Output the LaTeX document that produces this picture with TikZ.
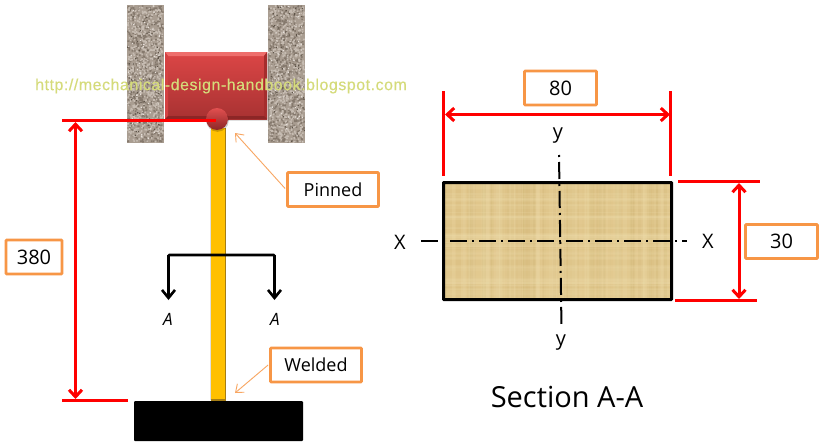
\documentclass[tikz,border=0pt]{standalone}
\usepackage{fontspec}
\setmainfont{Open Sans}
\newfontfamily\wmfont[FakeBold=0.25]{Liberation Sans}
\usetikzlibrary{arrows.meta,calc}
\definecolor{dimred}{HTML}{FF0000}
\definecolor{boxorange}{HTML}{F79646}
\definecolor{shaftyellow}{HTML}{FFC000}
\definecolor{shaftedge}{RGB}{165,125,20}
\definecolor{stonebase}{HTML}{A99D91}
\definecolor{stonedark}{HTML}{85796D}
\definecolor{stonelight}{HTML}{C6BCB2}
\definecolor{stonehi}{HTML}{E6E0DA}
\definecolor{stonelow}{HTML}{5E5449}
\definecolor{wood}{HTML}{E0C68B}
\definecolor{woodlight}{RGB}{242,226,178}
\definecolor{wooddark}{RGB}{190,160,90}
\definecolor{wmark}{HTML}{D5DB7A}
\definecolor{redtop}{RGB}{220,70,70}
\definecolor{redbot}{RGB}{168,50,50}
\definecolor{bevtop}{RGB}{238,110,108}
\definecolor{bevleft}{RGB}{212,66,66}
\definecolor{bevright}{RGB}{165,45,45}
\definecolor{bevbot}{RGB}{140,38,38}
\definecolor{balltop}{RGB}{226,80,80}
\definecolor{ballbot}{RGB}{140,38,38}
\tikzset{
  dimline/.style={draw=dimred,line width=3pt},
  dimarrow/.style={dimline,{Straight Barb[length=7pt,width=13pt,line width=3pt]}-{Straight Barb[length=7pt,width=13pt,line width=3pt]}},
  labelbox/.style={draw=boxorange,line width=2.8pt,fill=white,rounded corners=0.8pt,minimum width=#1,minimum height=34pt,inner sep=0pt,font=\fontsize{18}{20}\selectfont},
  numbox/.style={labelbox=#1,font=\fontsize{20}{22}\selectfont},
  leader/.style={draw=boxorange!85!white,line width=0.9pt,-{Straight Barb[length=7pt,width=11pt,line width=0.9pt]}},
  sectarrow/.style={draw=black,line width=2.6pt,-{Straight Barb[length=8pt,width=13pt,line width=2.6pt]}},
  plain/.style={inner sep=0pt,font=\fontsize{20}{22}\selectfont},
  centerline/.style={draw=black,line width=2pt,dash pattern=on 17pt off 5pt on 2pt off 5pt}
}
\begin{document}
\begin{tikzpicture}[x=1pt,y=-1pt]
\useasboundingbox (0,0) rectangle (822,447);
\fill[white] (0,0) rectangle (822,447);
\pgfmathsetseed{11}
% stone walls
\foreach \xo in {127,268}{
  \fill[stonebase] (\xo,5) rectangle ++(37,138);
  \fill[stonedark] \foreach \i in {1,...,650}{ ({\xo+rnd*35.4},{5+rnd*136.4}) rectangle ++(1.6,1.6) };
  \fill[stonelight] \foreach \i in {1,...,600}{ ({\xo+rnd*35.4},{5+rnd*136.4}) rectangle ++(1.6,1.6) };
  \fill[stonehi] \foreach \i in {1,...,70}{ ({\xo+rnd*35.8},{5+rnd*136.8}) rectangle ++(1.2,1.2) };
  \fill[stonelow] \foreach \i in {1,...,70}{ ({\xo+rnd*35.8},{5+rnd*136.8}) rectangle ++(1.2,1.2) };
}
% red block
\fill[black,opacity=0.12] (166,54) rectangle (269,121);
\shade[top color=redtop,bottom color=redbot] (165,52) rectangle (267,119);
\fill[bevtop] (165,52) -- (267,52) -- (264,56) -- (168,56) -- cycle;
\fill[bevleft] (165,52) -- (168,56) -- (168,116) -- (165,119) -- cycle;
\fill[bevright] (267,52) -- (264,56) -- (264,116) -- (267,119) -- cycle;
\fill[bevbot] (165,119) -- (168,116) -- (264,116) -- (267,119) -- cycle;
% shaft
\fill[black!12] (209.5,130) rectangle (212,400);
\fill[shaftyellow] (211,128) rectangle (226,401);
\fill[shaftedge] (224.8,128) rectangle (226,401);
\fill[shaftedge] (211,398.5) rectangle (226,401);
% ball
\fill[black,opacity=0.2] (217.5,120.5) circle (11.3);
\shade[top color=balltop,bottom color=ballbot] (217,119) circle (11);
% base
\node[fill=black,rounded corners=1pt,minimum width=169pt,minimum height=40pt,inner sep=0pt] (base) at (218.5,421) {};
% watermark
\node[inner sep=0pt,text=wmark,font=\wmfont\fontsize{16}{18}\selectfont,anchor=west] (wm) at (35,86) {\addfontfeature{LetterSpace=3.2}http://mechanical-design-handbook.blogspot.com};
% left dimension
\coordinate (pinend) at (216,120.5);
\coordinate (pinstart) at (62,120.5);
\coordinate (botstart) at (62,400.5);
\coordinate (botend) at (127.5,400.5);
\coordinate (dimtop) at (75.5,122);
\coordinate (dimbot) at (75.5,399);
\draw[dimline] (pinstart) -- (pinend);
\draw[dimline] (botstart) -- (botend);
\draw[dimarrow] (dimtop) -- (dimbot);
\node[numbox=56pt] (n380) at (34,257) {380};
% leaders
\node[labelbox=91pt] (pinned) at (333,189.5) {Pinned};
\node[labelbox=91pt] (welded) at (316,365) {Welded};
\coordinate (pintip) at (235,133);
\coordinate (weldtip) at (235,393);
\draw[leader] (pinned.west) ++(-1,-1) -- (pintip);
\draw[leader] (welded.west) ++(-1,0) -- (weldtip);
% section arrows
\coordinate (al) at (168.5,300);
\coordinate (ar) at (274.5,300);
\coordinate (ac1) at (168.5,255);
\coordinate (ac2) at (274.5,255);
\draw[sectarrow] (ac1) -- (al);
\draw[sectarrow] (ac2) -- (ar);
\draw[draw=black,line width=2.6pt,rounded corners=1pt] (168.5,262) -- (ac1) -- (ac2) -- (274.5,262);
\node[plain,font=\itshape\fontsize{17}{19}\selectfont] (la) at (168,319) {A};
\node[plain,font=\itshape\fontsize{17}{19}\selectfont] (lb) at (275,319) {A};
% section
\begin{scope}
\clip (443,182) rectangle (672,300);
\fill[wood] (443,182) rectangle (672,300);
\foreach \i in {1,...,70}{
  \pgfmathsetmacro{\px}{443+rnd*229}
  \pgfmathsetmacro{\pw}{1+rnd*7}
  \pgfmathsetmacro{\po}{0.06+rnd*0.1}
  \fill[woodlight,opacity=\po] (\px,182) rectangle ++(\pw,118);
}
\foreach \i in {1,...,50}{
  \pgfmathsetmacro{\px}{443+rnd*229}
  \pgfmathsetmacro{\pw}{1+rnd*7}
  \pgfmathsetmacro{\po}{0.05+rnd*0.08}
  \fill[wooddark,opacity=\po] (\px,182) rectangle ++(\pw,118);
}
\foreach \i in {1,...,60}{
  \pgfmathsetmacro{\py}{182+rnd*118}
  \pgfmathsetmacro{\pw}{1+rnd*4}
  \pgfmathsetmacro{\po}{0.06+rnd*0.12}
  \fill[woodlight,opacity=\po] (443,\py) rectangle ++(229,\pw);
}
\end{scope}
\node[draw=black,line width=3pt,rounded corners=0.6pt,minimum width=228pt,minimum height=117pt,inner sep=0pt] (sect) at (557.5,241) {};
\coordinate (xa) at (421,241);
\coordinate (xb) at (687,241);
\coordinate (ya) at (559,155);
\coordinate (yb) at (561.5,328);
\draw[centerline] (xa) -- (xb);
\draw[centerline,dash phase=22pt] (ya) -- (yb);
\node[plain] (xl) at (400,242) {X};
\node[plain] (xr) at (708,241) {X};
\node[plain] (yt) at (558,136) {y};
\node[plain] (yd) at (561,343) {y};
% width dim
\coordinate (w1a) at (443.5,91); \coordinate (w1b) at (443.5,176);
\coordinate (w2a) at (670.5,91); \coordinate (w2b) at (670.5,176);
\coordinate (wa) at (445,114.5); \coordinate (wb) at (670,114.5);
\draw[dimline] (w1a) -- (w1b);
\draw[dimline] (w2a) -- (w2b);
\draw[dimarrow] (wa) -- (wb);
\node[numbox=72pt] (n80) at (560.5,88) {80};
% height dim
\coordinate (h1a) at (678,181.5); \coordinate (h1b) at (760,181.5);
\coordinate (h2a) at (675,300.5); \coordinate (h2b) at (757,300.5);
\coordinate (ha) at (739,183); \coordinate (hb) at (739,299);
\draw[dimline] (h1a) -- (h1b);
\draw[dimline] (h2a) -- (h2b);
\draw[dimarrow] (ha) -- (hb);
\node[numbox=72pt] (n30) at (781.5,241.5) {30};
\node[inner sep=0pt,font=\fontsize{29}{32}\selectfont] (title) at (567,397) {Section A-A};
\end{tikzpicture}
\end{document}
